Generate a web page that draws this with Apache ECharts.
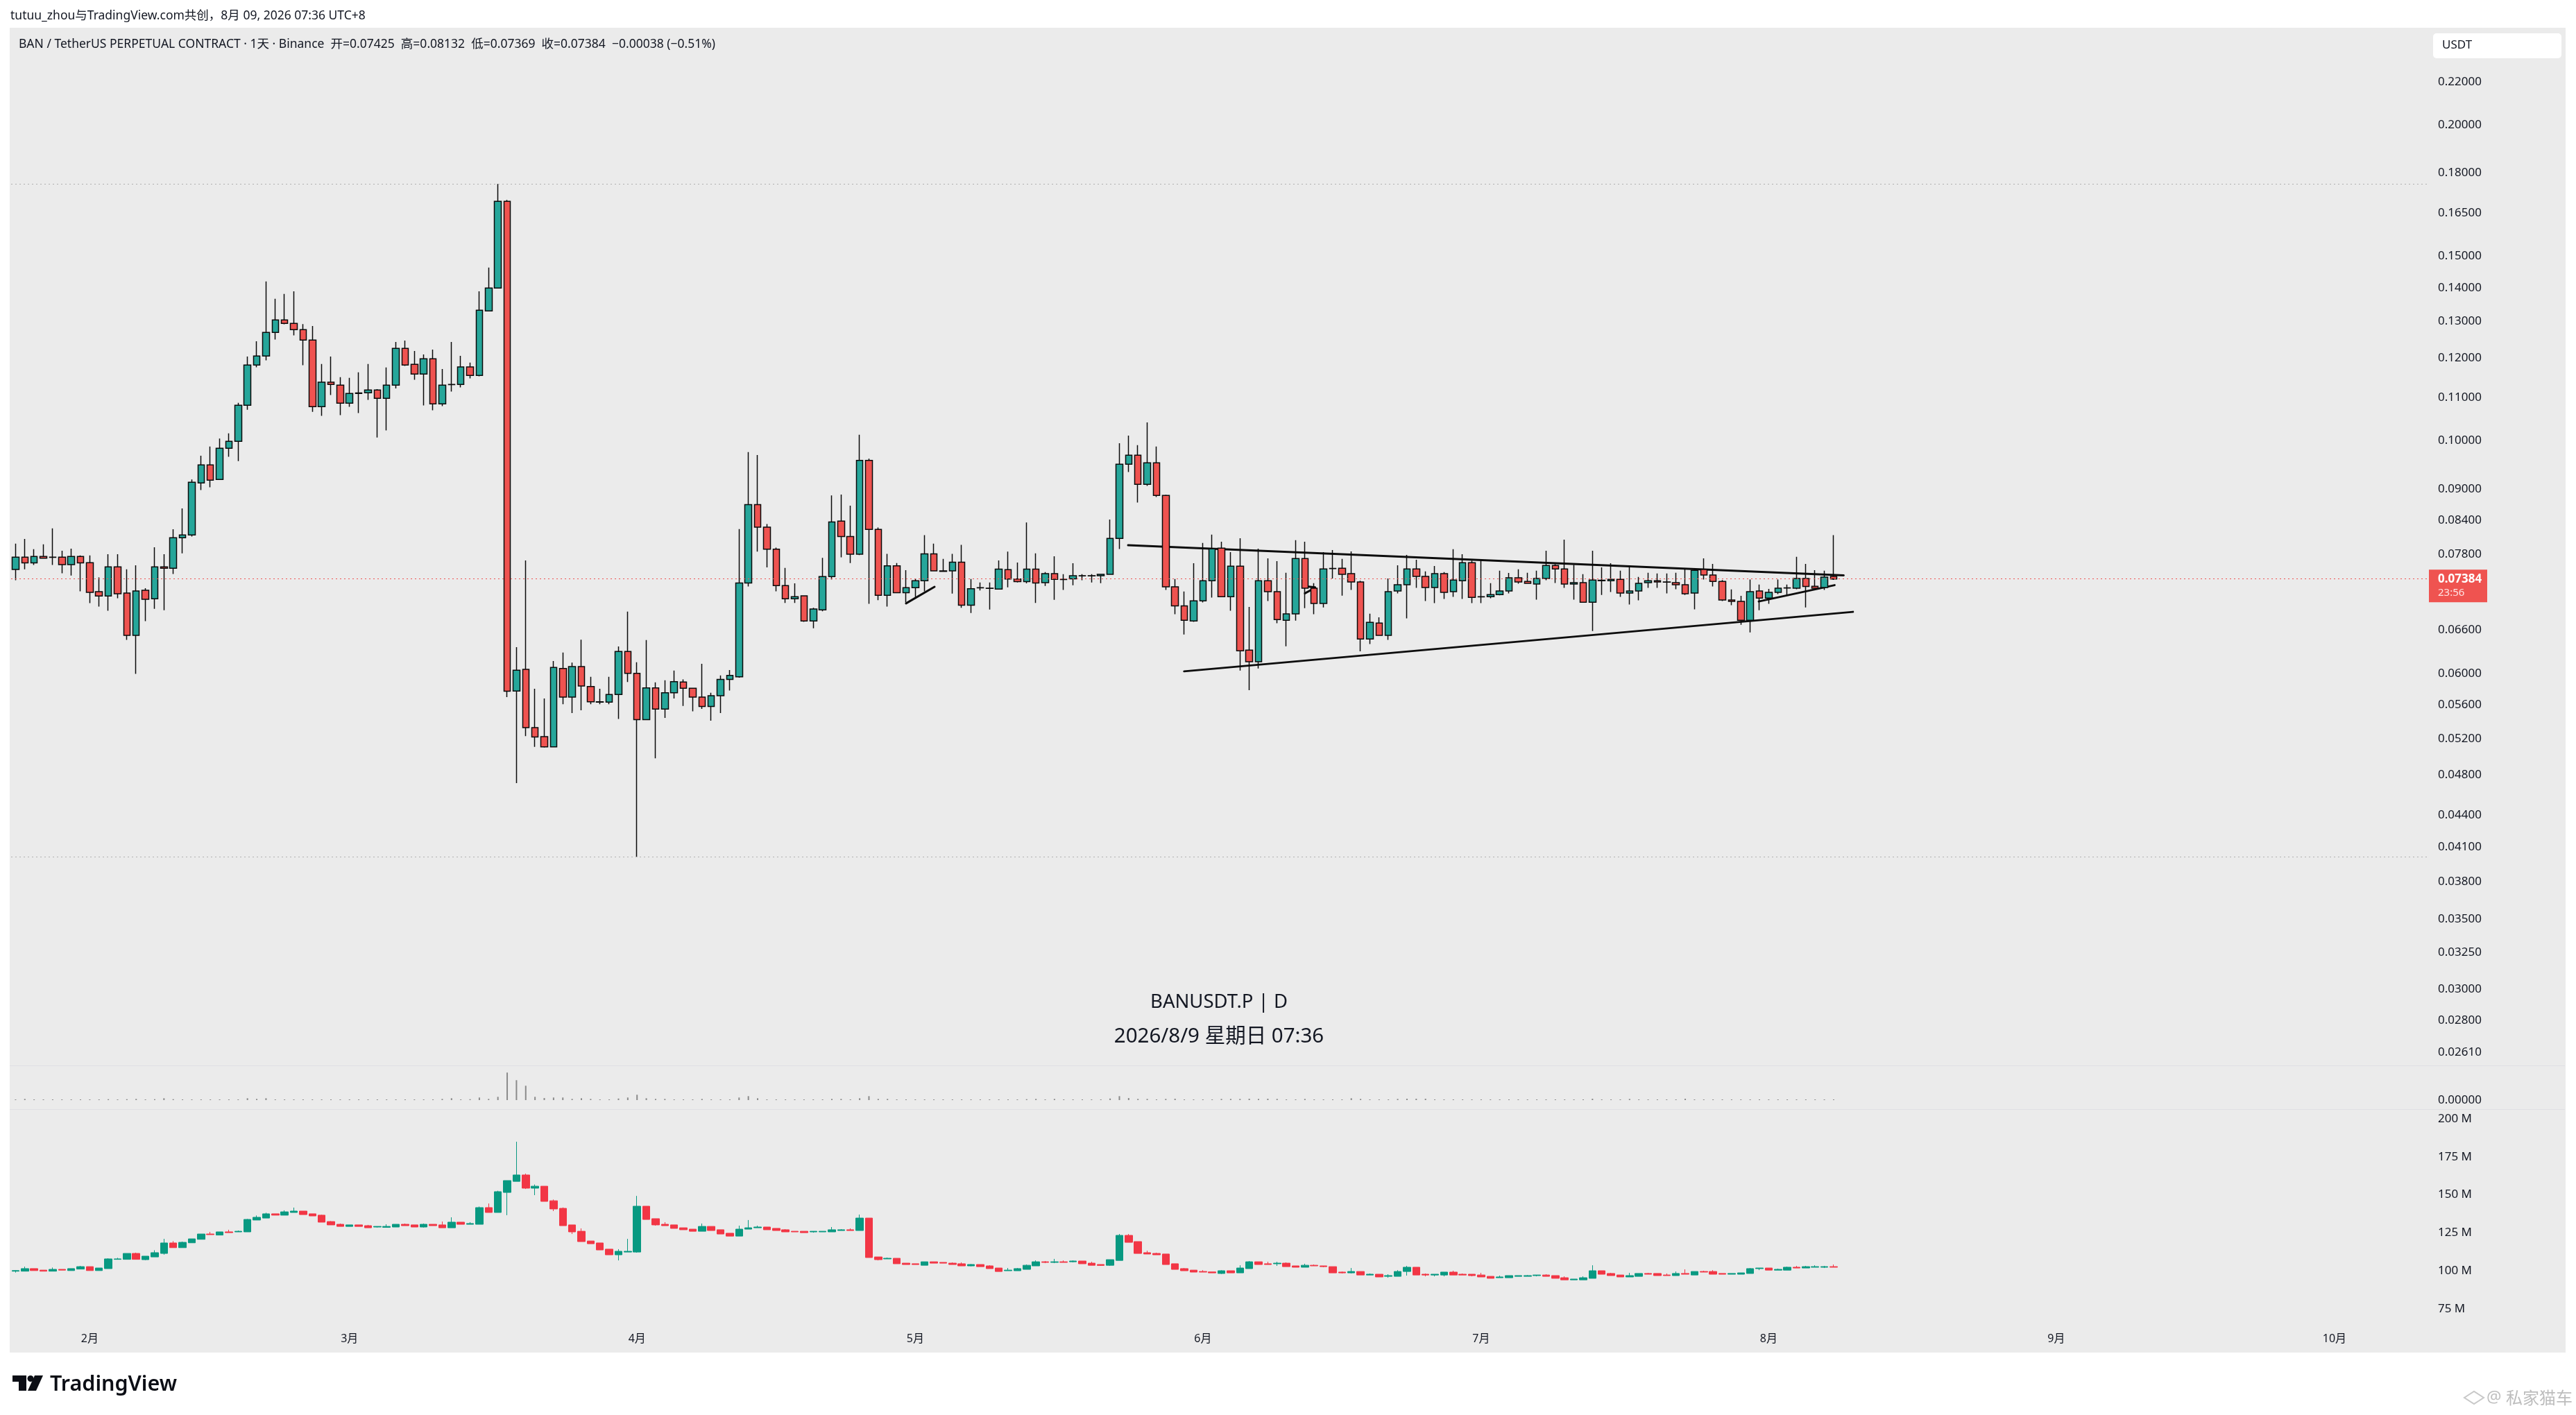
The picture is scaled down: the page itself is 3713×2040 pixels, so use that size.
<!DOCTYPE html>
<html>
<head>
<meta charset="utf-8">
<style>html,body{margin:0;padding:0;background:#fff}#c{width:3713px;height:2040px}</style>
<script src="https://cdn.jsdelivr.net/npm/echarts@6/dist/echarts.min.js"></script>
</head>
<body>
<div id="c"></div>
<script>
const opens=[.07539,.07747,.07650,.07759,.07747,.07747,.07620,.07759,.07654,.07181,
.07114,.07584,.07159,.06524,.07203,.07071,.07584,.07561,.08085,.08135,
.09118,.09485,.09188,.09840,.09990,.10815,.11814,.12047,.12690,.13043,
.12944,.12765,.12479,.10782,.11373,.11303,.10865,.11109,.11116,.11183,
.10981,.11303,.12253,.11832,.11581,.11976,.10848,.11320,.11320,.11761,
.11547,.13302,.13990,.16920,.05773,.06056,.05329,.05224,.05108,.06068,
.05697,.06093,.05831,.05640,.05636,.05730,.06297,.06003,.05422,.05814,
.05550,.05753,.05889,.05809,.05697,.05582,.05715,.05923,.05957,.07320,
.08693,.08274,.07883,.07279,.07069,.07117,.06733,.06899,.07423,.08385,
.08106,.07798,.09579,.08234,.07124,.07602,.07166,.07244,.07356,.07804,
.07516,.07516,.07662,.06971,.07244,.07237,.07222,.07538,.07385,.07341,
.07545,.07324,.07471,.07379,.07386,.07437,.07437,.07437,.07460,.08073,
.09499,.09690,.09091,.09528,.08871,.07258,.06962,.06734,.07039,.07357,
.07902,.07103,.07595,.06317,.06157,.07357,.07181,.06744,.06840,.07723,
.07236,.06997,.07557,.07561,.07471,.07335,.06473,.06703,.06524,.07192,
.07291,.07550,.07426,.07247,.07471,.07181,.07357,.07654,.07103,.07103,
.07136,.07192,.07403,.07346,.07302,.07391,.07607,.07550,.07302,.07324,
.07017,.07365,.07357,.07379,.07159,.07192,.07324,.07357,.07335,.07324,
.07291,.07159,.07539,.07448,.07346,.07051,.07030,.06744,.07192,.07082,
.07170,.07243,.07236,.07391,.07268,.07247,.07425];
const closes=[.07747,.07650,.07759,.07730,.07743,.07620,.07759,.07650,.07170,.07114,
.07584,.07148,.06524,.07192,.07061,.07584,.07561,.08085,.08135,.09132,
.09485,.09174,.09840,.09990,.10815,.11814,.12047,.12690,.13043,.12944,
.12765,.12479,.10782,.11373,.11320,.10865,.11099,.11099,.11183,.10981,
.11303,.12253,.11814,.11581,.11976,.10848,.11303,.11313,.11761,.11547,
.13322,.13990,.16920,.05772,.06045,.05329,.05220,.05108,.06080,.05697,
.06093,.05838,.05640,.05636,.05730,.06297,.06003,.05422,.05814,.05550,
.05753,.05894,.05809,.05697,.05582,.05715,.05923,.05975,.07320,.08693,
.08274,.07883,.07279,.07069,.07103,.06733,.06912,.07423,.08369,.08106,
.07798,.09579,.08234,.07124,.07602,.07166,.07244,.07356,.07804,.07516,
.07510,.07662,.06971,.07229,.07241,.07234,.07545,.07385,.07341,.07545,
.07320,.07471,.07379,.07376,.07437,.07435,.07435,.07460,.08073,.09499,
.09690,.09091,.09528,.08871,.07258,.06962,.06744,.07039,.07357,.07889,
.07103,.07595,.06307,.06157,.07357,.07181,.06755,.06840,.07723,.07236,
.06997,.07550,.07554,.07460,.07335,.06473,.06714,.06524,.07181,.07291,
.07550,.07426,.07247,.07471,.07170,.07368,.07654,.07093,.07101,.07136,
.07192,.07403,.07335,.07313,.07391,.07607,.07550,.07302,.07324,.07017,
.07368,.07357,.07379,.07159,.07192,.07313,.07357,.07335,.07333,.07291,
.07148,.07527,.07448,.07346,.07051,.07030,.06744,.07181,.07082,.07170,
.07236,.07240,.07391,.07264,.07236,.07414,.07384];
const lows=[.07365,.07542,.07615,.07730,.07615,.07478,.07440,.07187,.07003,.06949,
.06886,.07078,.06460,.05995,.06732,.06917,.06896,.07466,.07813,.08105,
.08976,.09031,.09180,.09656,.09567,.10709,.11754,.11933,.12490,.12916,
.12606,.11807,.10660,.10564,.11058,.10580,.10775,.10628,.10940,.10076,
.10231,.11222,.11790,.11435,.10808,.10693,.10792,.11143,.11244,.11470,
.11522,.13302,.13990,.05697,.04718,.05230,.05108,.05100,.05108,.05609,
.05501,.05535,.05609,.05609,.05609,.05430,.05889,.04010,.05422,.04981,
.05443,.05680,.05587,.05523,.05552,.05411,.05501,.05781,.05946,.07264,
.07842,.07574,.07187,.07007,.07007,.06720,.06627,.06879,.07376,.07744,
.07647,.07782,.06994,.07049,.06951,.07166,.07014,.07096,.07187,.07516,
.07508,.07152,.06931,.06853,.07202,.06906,.07222,.07251,.07327,.07314,
.07007,.07272,.07054,.07209,.07283,.07365,.07327,.07316,.07460,.07887,
.09338,.08733,.09058,.08840,.07209,.06835,.06538,.06720,.07013,.07088,
.07103,.06886,.06040,.05785,.06068,.07035,.06700,.06370,.06740,.06927,
.06835,.06938,.07393,.07120,.07209,.06300,.06402,.06524,.06460,.07155,
.06772,.07243,.07035,.07003,.07067,.07099,.07067,.07003,.07003,.07078,
.07125,.07155,.07309,.07313,.07057,.07365,.07319,.07243,.07057,.07017,
.06587,.07131,.07176,.07099,.06982,.07046,.07243,.07243,.07155,.07221,
.07131,.06907,.07376,.07264,.07035,.06971,.06679,.06568,.06896,.06992,
.07143,.07136,.07221,.06938,.07236,.07209,.07369];
const highs=[.07979,.08064,.07883,.07967,.08252,.07857,.07893,.07775,.07775,.07410,
.07798,.07798,.07542,.07610,.07236,.07918,.07798,.08238,.08622,.09188,
.09681,.09875,.10051,.10165,.10870,.12034,.12446,.14190,.13659,.13806,
.13889,.12923,.12870,.11838,.12034,.11500,.11482,.11623,.11838,.11205,
.11748,.12427,.12465,.12183,.12090,.12221,.11711,.12427,.12053,.11873,
.13889,.14628,.17579,.16971,.06357,.07691,.05802,.05680,.06168,.06284,
.06145,.06463,.05957,.05802,.05957,.06368,.06873,.06151,.06459,.05884,
.05911,.06039,.05923,.05811,.06130,.05753,.05975,.06047,.08241,.09758,
.09695,.08330,.07912,.07566,.07314,.07117,.06932,.07736,.08871,.08889,
.08675,.10135,.09617,.08267,.07804,.07647,.07530,.07391,.08130,.07981,
.07716,.07804,.07958,.07385,.07327,.07327,.07691,.07842,.07656,.08361,
.07812,.07497,.07763,.07463,.07645,.07463,.07463,.07460,.08414,.09950,
.10118,.09905,.10415,.09875,.08884,.07383,.07184,.07645,.07991,.08139,
.08015,.07833,.08076,.06945,.07893,.07725,.07679,.07486,.08040,.08015,
.07316,.07833,.07869,.07716,.07845,.07357,.06842,.06789,.07393,.07610,
.07786,.07703,.07508,.07599,.07497,.07883,.07798,.07687,.07687,.07316,
.07519,.07483,.07542,.07486,.07519,.07857,.07629,.08052,.07618,.07463,
.07857,.07576,.07645,.07519,.07610,.07418,.07486,.07474,.07474,.07486,
.07539,.07561,.07725,.07633,.07368,.07217,.07117,.07376,.07294,.07225,
.07376,.07294,.07752,.07633,.07530,.07519,.08132];

const subOpen=[99.7,99.7,101.4,100.4,99.7,100.9,100.1,101.1,102.7,100.1,
101.4,107.5,107.5,111.4,107.3,109.1,111.4,118.3,115.2,118.4,
120.7,124.2,123.5,125.6,125.6,125.6,133.4,134.7,137.5,136.6,
138.4,139.3,137.5,136.6,132.4,130.6,129.2,130.2,129.7,128.8,
128.6,128.8,130.6,130.2,128.8,130.6,130.2,128.3,132.0,130.6,
130.6,141.6,138.4,151.6,158.9,163.1,154.4,155.7,146.1,141.1,
130.2,126.0,119.6,118.3,114.2,110.5,112.3,112.3,142.5,134.3,
130.6,130.2,128.3,127.4,126.0,129.2,127.0,124.7,122.8,127.4,
128.3,128.8,127.9,127.0,126.0,126.0,125.6,125.6,125.6,126.5,
127.0,126.5,134.7,109.1,107.8,108.2,105.0,104.6,103.6,105.9,
105.5,105.0,104.6,103.2,104.1,103.2,101.8,100.0,100.0,100.9,
103.2,105.9,105.5,105.9,105.9,106.4,105.0,104.1,103.6,106.8,
123.3,119.2,111.9,111.4,111.0,104.6,101.4,100.4,99.5,99.2,
98.2,100.0,98.6,101.4,105.9,104.6,104.6,105.0,103.2,102.3,
103.6,103.2,102.7,99.1,98.6,99.5,97.2,97.7,96.3,96.3,
99.5,102.3,97.7,97.2,97.2,99.1,97.7,97.7,97.2,96.3,
95.4,95.4,96.3,96.3,96.8,97.2,96.8,95.4,94.0,94.0,
95.0,100.0,98.2,97.2,95.9,96.3,98.2,98.2,97.2,96.8,
98.2,97.2,99.5,99.5,98.2,97.7,97.7,98.2,101.4,101.8,
100.4,100.4,102.3,101.8,102.3,102.3,102.7];
const subClose=[100.1,101.4,100.1,99.7,100.9,100.4,101.4,102.7,100.1,101.8,
107.8,107.8,111.4,107.5,109.6,111.9,118.3,115.2,118.7,121.0,
124.2,123.8,125.6,125.1,126.0,133.8,135.2,137.5,136.6,138.8,
139.3,137.0,136.1,132.0,130.2,129.2,130.2,129.2,128.3,129.2,
129.2,130.6,129.7,128.8,130.6,129.7,128.3,132.0,130.6,131.1,
141.6,138.4,152.1,159.4,163.1,154.4,155.7,145.7,140.7,129.7,
125.6,119.2,117.8,113.7,110.5,112.8,112.8,142.5,133.8,130.2,
129.7,127.9,127.0,126.0,129.2,126.5,124.2,122.8,127.4,128.3,
128.8,127.0,126.5,125.6,125.6,125.1,126.0,126.0,127.0,127.0,
126.5,134.7,108.7,107.3,108.2,104.6,104.1,104.1,105.9,105.0,
105.0,104.1,103.2,104.1,102.7,101.4,99.5,100.4,101.4,103.6,
105.9,105.5,105.9,105.5,106.4,104.6,103.6,103.5,107.3,123.3,
118.7,111.4,111.0,110.5,104.1,100.9,100.0,99.1,99.1,98.6,
100.0,98.6,101.8,105.9,104.1,104.1,105.0,102.7,102.3,103.6,
103.2,102.7,98.6,98.6,99.5,97.2,97.7,95.9,96.8,99.5,
102.3,97.2,97.2,97.7,99.1,97.2,97.2,96.8,95.9,95.0,
95.9,96.8,96.8,96.8,97.2,96.3,95.0,94.0,94.5,95.4,
100.0,97.7,96.8,95.9,96.8,98.2,97.7,96.8,96.8,98.2,
97.7,99.5,99.1,97.7,97.7,98.2,98.6,101.4,101.8,100.4,
100.9,102.3,101.8,102.7,102.7,102.7,102.3];
const subLow=[98.8,99.7,100.1,99.7,99.7,100.4,100.1,101.1,100.1,100.1,
101.4,107.5,107.5,107.5,107.0,109.1,110.6,115.2,115.2,118.4,
120.7,123.8,123.5,125.1,125.6,125.6,133.4,134.7,136.6,136.6,
138.4,137.0,136.1,132.0,130.2,129.2,129.2,129.2,128.3,128.5,
128.6,128.8,129.7,128.8,128.5,129.7,128.3,128.3,130.6,130.6,
130.6,138.4,138.4,136.6,158.9,153.9,149.8,145.7,139.3,129.7,
124.2,119.2,117.8,113.7,110.5,106.8,112.3,111.9,133.8,129.7,
129.7,127.9,127.0,126.0,126.0,126.5,124.2,122.8,122.8,127.4,
128.3,127.0,126.5,125.6,125.6,125.1,125.1,125.6,125.6,126.5,
126.5,126.5,108.7,106.8,107.8,104.6,104.1,104.1,103.6,105.0,
105.0,104.1,103.2,102.9,102.7,101.4,99.5,100.0,100.0,100.9,
103.2,105.0,105.0,105.5,105.5,104.6,103.6,103.2,103.2,106.8,
118.7,111.4,111.0,110.5,104.1,100.9,100.0,99.1,99.1,98.6,
97.9,98.6,98.6,101.4,104.1,104.1,103.2,102.7,102.3,102.3,
103.2,102.3,98.6,98.2,98.2,97.2,97.2,95.9,95.4,96.3,
96.8,97.2,96.3,96.3,96.3,97.2,97.2,96.3,95.9,95.0,
95.4,95.4,96.3,96.3,96.3,96.3,95.0,94.0,94.0,94.0,
95.0,97.7,96.8,95.9,95.9,96.3,97.7,96.8,96.8,96.8,
97.7,97.2,99.1,97.7,97.7,97.7,97.7,98.2,100.4,100.4,
100.4,100.4,101.8,101.8,102.3,101.8,102.3];
const subHigh=[100.4,102.7,101.4,100.4,102.1,100.9,101.4,103.2,102.7,101.8,
108.2,108.5,111.4,111.9,109.6,113.5,121.0,119.5,119.2,121.0,
124.2,125.6,125.6,127.0,126.5,134.1,136.4,138.2,137.5,139.8,
141.6,139.3,137.5,136.9,132.7,131.1,130.2,130.2,130.2,129.2,
130.6,130.6,131.1,130.2,131.1,130.6,132.4,135.2,132.0,132.0,
142.3,144.3,152.7,159.4,185.0,164.0,156.8,155.7,146.9,141.7,
130.2,127.9,119.6,118.3,114.2,114.2,121.0,149.3,142.5,134.3,
132.0,130.2,128.3,127.4,131.1,129.2,127.0,124.7,129.7,133.4,
129.7,128.8,127.9,127.4,126.0,126.0,126.0,126.0,128.8,127.4,
127.9,137.0,134.7,109.1,108.7,108.2,105.0,104.6,105.9,105.9,
105.5,105.5,105.5,104.4,104.1,103.6,101.8,101.8,101.8,104.1,
106.8,106.4,107.8,106.8,106.8,106.4,105.9,104.1,107.3,124.2,
124.2,119.2,113.2,111.9,111.0,104.6,101.8,100.4,100.4,99.2,
100.3,100.0,103.6,106.4,105.9,105.9,105.9,105.5,103.2,104.6,
104.1,103.2,102.7,99.5,101.8,99.5,98.2,97.7,97.7,100.4,
103.2,102.3,98.2,97.7,99.1,100.0,98.2,97.7,98.6,96.3,
96.8,96.8,96.8,97.1,97.2,97.7,96.8,96.3,94.5,96.3,
103.6,100.0,98.6,97.2,98.6,98.2,98.6,98.2,98.2,99.5,
100.9,99.5,100.0,100.4,98.2,98.2,98.6,101.8,101.8,101.8,
101.4,102.7,103.2,103.2,103.6,103.2,104.1];

const volumes=[1,1.7,1,1,1,1,1,1,1,1,
1.3,1,1.3,1.7,1,1.3,2.7,1.3,1,1,
1,1,1,1,1,2.7,1.7,2.7,1,1,
1,1,1,1,1,1,1,1,1,1,
1,1,1,1,1,1,1.7,2.7,1,1.3,
3.7,1.7,4.7,39.7,28.7,20.7,4.7,3,3.7,3.7,
1.7,2.7,1.7,1,1,2.3,3.7,7.7,2.7,1.7,
1.7,1,1,1,1.7,1,1,1,3.7,5.7,
2.7,1,1,1,1,1,1,1,1.7,1.7,
1,2.7,5.7,1.7,1.7,1,1,1,1,1,
1,1,1,1,1,1,1,1,1,1.3,
1.7,1,1.7,1,1,1,1,1,2.3,5.7,
3,1.7,1.7,1,1.7,2,1,1,1,1,
1.7,1.7,1.7,2,1.7,2,1.7,1,1,1.7,
1,1,1,1,2.7,1.7,1,1,1,1.7,
2,2,2,1,1,1,1,1,1,1,
1,1,1,1,1,1,1,1,1,1,
2,1,1,1,1.7,1,1,1,1,1,
2,1,1,1,1,1,1,1,1,1,
1,1,1,1,1,1,1];

const trendLines=[
  [[119.94,.07952],[197.08,.07444]],
  [[125.98,.06029],[198.08,.06870]],
  [[96.0,.06999],[99.07,.07258]],
  [[139.0,.07155],[140.06,.07239]],
  [[139.4,.07261],[140.1,.07250]],
  [[187.93,.07029],[196.1,.07285]]
];

const priceTicks=[.22,.2,.18,.165,.15,.14,.13,.12,.11,.1,.09,.084,.078,.066,.06,.056,.052,.048,.044,.041,.038,.035,.0325,.03,.028,.0261];
const subTicks=[200,175,150,125,100,75];
const monthTicks=[8,36,67,97,128,158,189,220,250];
const monthLabels=['2月','3月','4月','5月','6月','7月','8月','9月','10月'];
const lastPriceText='0.07384', countdownText='23:56';

const idx=opens.map((_,i)=>i);
const candleData=idx.map(i=>[i,opens[i],closes[i],lows[i],highs[i]]);
const subData=idx.map(i=>[i,subOpen[i],subClose[i],subLow[i],subHigh[i]]);
const volData=idx.map(i=>[i,volumes[i]]);
const FONT='"Noto Sans","Noto Sans CJK SC",sans-serif';
const INK='#131722';
const xMin=-0.48,xMax=260.1,gL=16,gW=3484;
const priceLabel=v=>(v<0?Math.pow(10,v):v).toFixed(5);
const axisText={fontFamily:FONT,fontSize:17,color:INK};
const xBase={type:'value',min:xMin,max:xMax,splitLine:{show:false},axisLine:{show:false},axisTick:{show:false}};
const yBase={position:'right',splitLine:{show:false},axisLine:{show:false},axisTick:{show:false}};
const text=(x,y,t,extra)=>({type:'text',x,y,silent:true,style:Object.assign({text:t,font:'17.5px '+FONT,fill:INK,textVerticalAlign:'middle'},extra||{})});

const chart=echarts.init(document.getElementById('c'),null,{renderer:'canvas',width:3713,height:2040});
chart.setOption({
  animation:false,
  backgroundColor:'#ffffff',
  grid:[
    {left:gL,width:gW,top:40,height:1496},
    {left:gL,width:gW,top:1536.3,height:63},
    {left:gL,width:gW,top:1600,height:308}
  ],
  xAxis:[
    Object.assign({gridIndex:0,axisLabel:{show:false}},xBase),
    Object.assign({gridIndex:1,axisLabel:{show:false}},xBase),
    Object.assign({gridIndex:2,axisLabel:Object.assign({customValues:monthTicks,margin:14,formatter:v=>monthLabels[monthTicks.indexOf(v)]||''},axisText,{fontSize:16})},xBase)
  ],
  yAxis:[
    Object.assign({gridIndex:0,type:'log',logBase:10,min:.02538,max:.2477,axisLabel:Object.assign({customValues:priceTicks,margin:14,padding:[0,0,4,0],formatter:priceLabel},axisText)},yBase),
    Object.assign({gridIndex:1,type:'value',min:-13.3,max:49.7,axisLabel:Object.assign({customValues:[0],margin:14,padding:[0,0,4,0],formatter:()=>'0.00000'},axisText)},yBase),
    Object.assign({gridIndex:2,type:'value',min:65.27,max:206.03,axisLabel:Object.assign({customValues:subTicks,margin:14,formatter:v=>v+' M'},axisText)},yBase)
  ],
  series:[
    ...trendLines.map((pts,k)=>({
      type:'line',xAxisIndex:0,yAxisIndex:0,data:pts,z:1,symbol:'none',silent:true,clip:false,
      lineStyle:{color:'#0d0d0d',width:3,cap:'round'},
      markLine:k===0?{silent:true,symbol:'none',animation:false,precision:5,data:[
        {yAxis:Math.max(...highs),lineStyle:{color:'#b0b0b0',type:[2,4],width:1},label:{show:false}},
        {yAxis:Math.min(...lows),lineStyle:{color:'#b0b0b0',type:[2,4],width:1},label:{show:false}},
        {yAxis:closes[closes.length-1],lineStyle:{color:'#ef5350',type:[2,4],width:1},label:{
          show:true,position:'end',distance:1,offset:[0,10],backgroundColor:'#ef5350',padding:[4,13,4,13],
          formatter:'{a|'+lastPriceText+'}\n{b|'+countdownText+'}',
          rich:{a:{fontFamily:FONT,fontSize:17,fontWeight:'bold',color:'#fff',lineHeight:20,width:58},b:{fontFamily:FONT,fontSize:15,color:'#ffe3e3',lineHeight:19,width:58}}
        }}
      ]}:undefined
    })),
    {type:'candlestick',xAxisIndex:0,yAxisIndex:0,data:candleData,z:3,barWidth:10,silent:true,
     itemStyle:{color:'#26a69a',color0:'#ef5350',borderColor:'#0a0a0a',borderColor0:'#0a0a0a',borderColorDoji:'#0a0a0a',borderWidth:1.5}},
    {type:'bar',xAxisIndex:1,yAxisIndex:1,data:volData,barWidth:2,silent:true,itemStyle:{color:'#8a8a8a'}},
    {type:'candlestick',xAxisIndex:2,yAxisIndex:2,data:subData,barWidth:11,silent:true,
     itemStyle:{color:'#089981',color0:'#f23645',borderColor:'#089981',borderColor0:'#f23645',borderColorDoji:'#089981',borderWidth:1}}
  ],
  graphic:[
    {type:'rect',z:-10,silent:true,shape:{x:14,y:40,width:3684,height:1910},style:{fill:'#ebebeb'}},
    {type:'rect',z:-9,silent:true,shape:{x:14,y:1536,width:3683,height:1},style:{fill:'#dfdfe4'}},
    {type:'rect',z:-9,silent:true,shape:{x:14,y:1599,width:3683,height:1},style:{fill:'#dfdfe4'}},
    {type:'rect',z:-9,silent:true,shape:{x:3507,y:48,width:185,height:36,r:5},style:{fill:'#ffffff'}},
    text(3520,65,'USDT',{font:'17px '+FONT}),
    text(15,23,'tutuu_zhou与TradingView.com共创，8月 09, 2026 07:36 UTC+8'),
    text(27,64,'BAN / TetherUS PERPETUAL CONTRACT · 1天 · Binance  开=0.07425  高=0.08132  低=0.07369  收=0.07384  −0.00038 (−0.51%)'),
    text(1757,1445,'BANUSDT.P | D',{font:'27.5px '+FONT,textAlign:'center'}),
    text(1757,1495,'2026/8/9 星期日 07:36',{font:'29.5px '+FONT,textAlign:'center'}),
    {type:'polygon',silent:true,shape:{points:[[18,1983],[38,1983],[38,2005],[27,2005],[27,1992],[18,1992]]},style:{fill:'#0c0e15'}},
    {type:'circle',silent:true,shape:{cx:44,cy:1987.5,r:4.5},style:{fill:'#0c0e15'}},
    {type:'polygon',silent:true,shape:{points:[[50,1983],[62,1983],[52,2005],[40,2005]]},style:{fill:'#0c0e15'}},
    text(72,1996,'TradingView',{font:'600 30.5px '+FONT,fill:'#0c0e15'}),
    {type:'polygon',silent:true,shape:{points:[[3552,2015],[3566,2006],[3580,2015],[3566,2024]]},style:{fill:'none',stroke:'#c8c8c8',lineWidth:2}},
    text(3584,2015,'@',{font:'24px '+FONT,fill:'#c0c0c0'}),
    text(3612,2015,'私家猫车',{font:'24px "Noto Sans CJK SC",sans-serif',fill:'#bdbdbd'})
  ]
});
</script>
</body>
</html>
